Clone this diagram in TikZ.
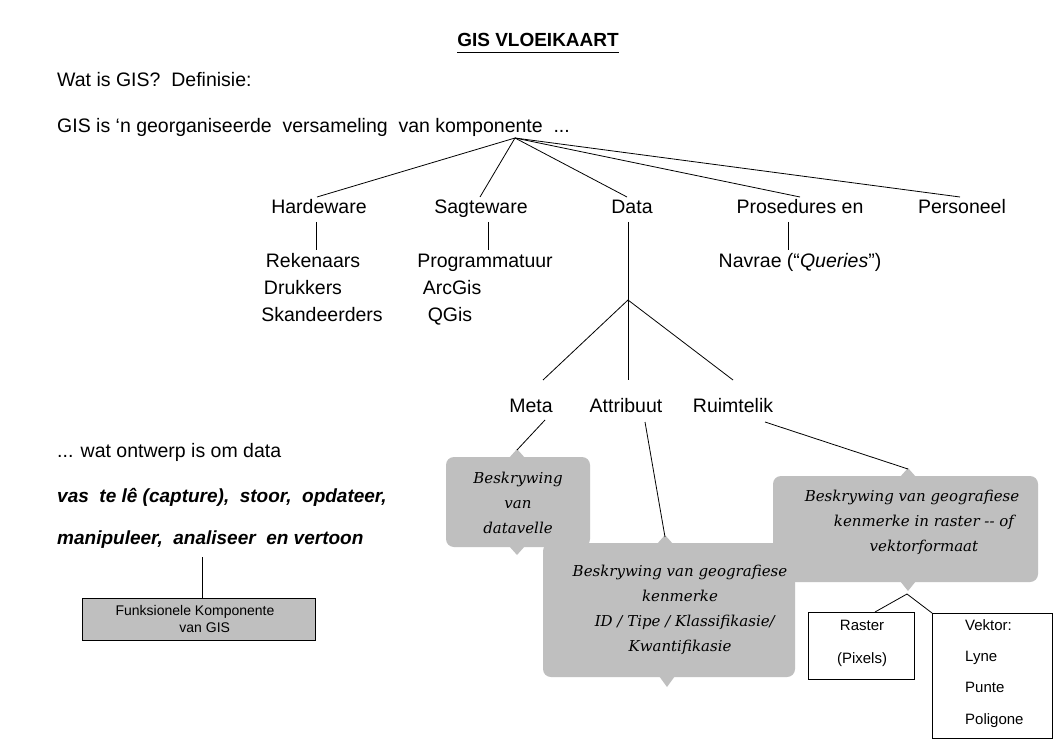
\documentclass[tikz,border=0pt]{standalone}
\usepackage{fontspec}
\setmainfont{Liberation Sans}
\newfontfamily\serifit{DejaVu Serif}
\begin{document}
\begin{tikzpicture}[x=1pt,y=-1pt,
  lbl/.style={font=\fontsize{19.5}{22}\selectfont,inner sep=0pt,text height=14pt,text depth=4pt},
  lt/.style={lbl,anchor=west},
  bi/.style={lt,font=\bfseries\itshape\fontsize{19}{22}\selectfont},
  conn/.style={draw=black,line width=0.8pt},
  callout/.style={fill=gray!50,draw=none},
  cit/.style={font=\serifit\itshape\fontsize{15}{25}\selectfont,align=center,inner sep=0pt},
  wbox/.style={draw=black,line width=0.8pt,fill=white},
  sm/.style={font=\fontsize{15}{17}\selectfont,inner sep=0pt,text height=11pt,text depth=3pt},
]
\useasboundingbox (0,0) rectangle (1059,743);
\fill[white] (0,0) rectangle (1059,743);
% title
\node[lbl,font=\bfseries\fontsize{19}{22}\selectfont] (title) at (538,42) {GIS VLOEIKAART};
\draw[line width=1pt] ([yshift=-1pt]title.south west) -- ([yshift=-1pt]title.south east);
\node[lt] (wat) at (57,82) {Wat is GIS?\ \ Definisie:};
\node[lt] (gis) at (57,128) {GIS is `n georganiseerde\ \ versameling\ \ van komponente\ \ ...};
\coordinate (hub) at (515,138);
% level 1
\node[lbl] (hw) at (319,209) {Hardeware};
\node[lbl] (sw) at (481,209) {Sagteware};
\node[lbl] (data) at (632,209) {Data};
\node[lbl] (pro) at (800,209) {Prosedures\ en};
\node[lbl] (per) at (962,209) {Personeel};
\foreach \n/\x in {hw/317,sw/480,data/627,pro/800,per/960}
  \draw[conn] (hub) -- (\x,197);
% level 2
\node[lbl] (rek) at (313,262) {Rekenaars};
\node[lbl] (dru) at (303,289) {Drukkers};
\node[lbl] (ska) at (322,316) {Skandeerders};
\node[lbl] (prog) at (485,262) {Programmatuur};
\node[lbl] (arc) at (452,289) {ArcGis};
\node[lbl] (qgis) at (450,316) {QGis};
\node[lbl] (nav) at (800,262) {Navrae (``\textit{Queries}'')};
\draw[conn] (316,222) -- (316,250);
\draw[conn] (488,222) -- (488,250);
\draw[conn] (788,222) -- (788,250);
\coordinate (dhub) at (628,300);
\draw[conn] (628,222) -- (dhub);
% data children
\node[lbl] (meta) at (531,407) {Meta};
\node[lbl] (attr) at (626,407) {Attribuut};
\node[lbl] (ruim) at (733,407) {Ruimtelik};
\draw[conn] (dhub) -- (543,380);
\draw[conn] (dhub) -- (628,380);
\draw[conn] (dhub) -- (733,380);
% meta box
\fill[callout,rounded corners=8pt] (446,457) rectangle (590,547);
\fill[callout] (509,458) -- (517,449) -- (525,458) -- cycle;
\fill[callout] (509,546) -- (517,555) -- (525,546) -- cycle;
% ruimtelik box
\fill[callout,rounded corners=8pt] (773,476) rectangle (1038,582);
\fill[callout] (900,477) -- (908,468) -- (916,477) -- cycle;
\fill[callout] (900,581) -- (908,591) -- (916,581) -- cycle;
% attribuut box
\fill[callout,rounded corners=8pt] (543,543) rectangle (795,677);
\fill[callout] (657,544) -- (665,535) -- (673,544) -- cycle;
\fill[callout] (659,676) -- (667,687) -- (675,676) -- cycle;
\node[cit] (mb) at (518,503) {Beskrywing\\van\\datavelle};
\node[cit] (ab) at (680,610) {Beskrywing van geografiese\\kenmerke\\\ \ ID / Tipe / Klassifikasie/\\Kwantifikasie};
\node[cit] (rb) at (912,522) {Beskrywing van geografiese\\\ \ \ \ \ kenmerke in raster -- of\\\ \ \ \ \ vektorformaat};
\coordinate (mtop) at (517,450);
\coordinate (atop) at (665,537);
\coordinate (rtop) at (908,469);
\draw[conn] (545,420) -- (mtop);
\draw[conn] (645,422) -- (atop);
\draw[conn] (765,422) -- (rtop);
% raster / vektor
\coordinate (rbot) at (907,594);
\draw[wbox] (808,612) rectangle (914,679);
\draw[wbox] (932,613) rectangle (1052,738);
\node[sm] (ras) at (862,626) {Raster};
\node[sm] (pix) at (862,659) {(Pixels)};
\foreach \t/\y/\n in {Vektor:/626/v1,Lyne/657/v2,Punte/688/v3,Poligone/720/v4}
  \node[sm,anchor=west] (\n) at (965,\y) {\t};
\draw[conn] (rbot) -- (875,612);
\draw[conn] (rbot) -- (932,613);
% left text
\node[lt] (ont) at (57,452) {... wat ontwerp is om data};
\node[bi] (vas) at (57,497) {vas\ \ te lê (capture),\ \ stoor,\ \ opdateer,};
\node[bi] (man) at (57,539) {manipuleer,\ \ analiseer\ \ en vertoon};
\draw[fill=gray!50,draw=black,line width=0.8pt] (82,598) rectangle (315,640);
\node[font=\fontsize{14}{17}\selectfont,align=center,inner sep=0pt] (fk) at (195,619) {Funksionele Komponente\\\ \ \ \ \ van GIS};
\draw[conn] (202,557) -- (202,598);
\end{tikzpicture}
\end{document}
